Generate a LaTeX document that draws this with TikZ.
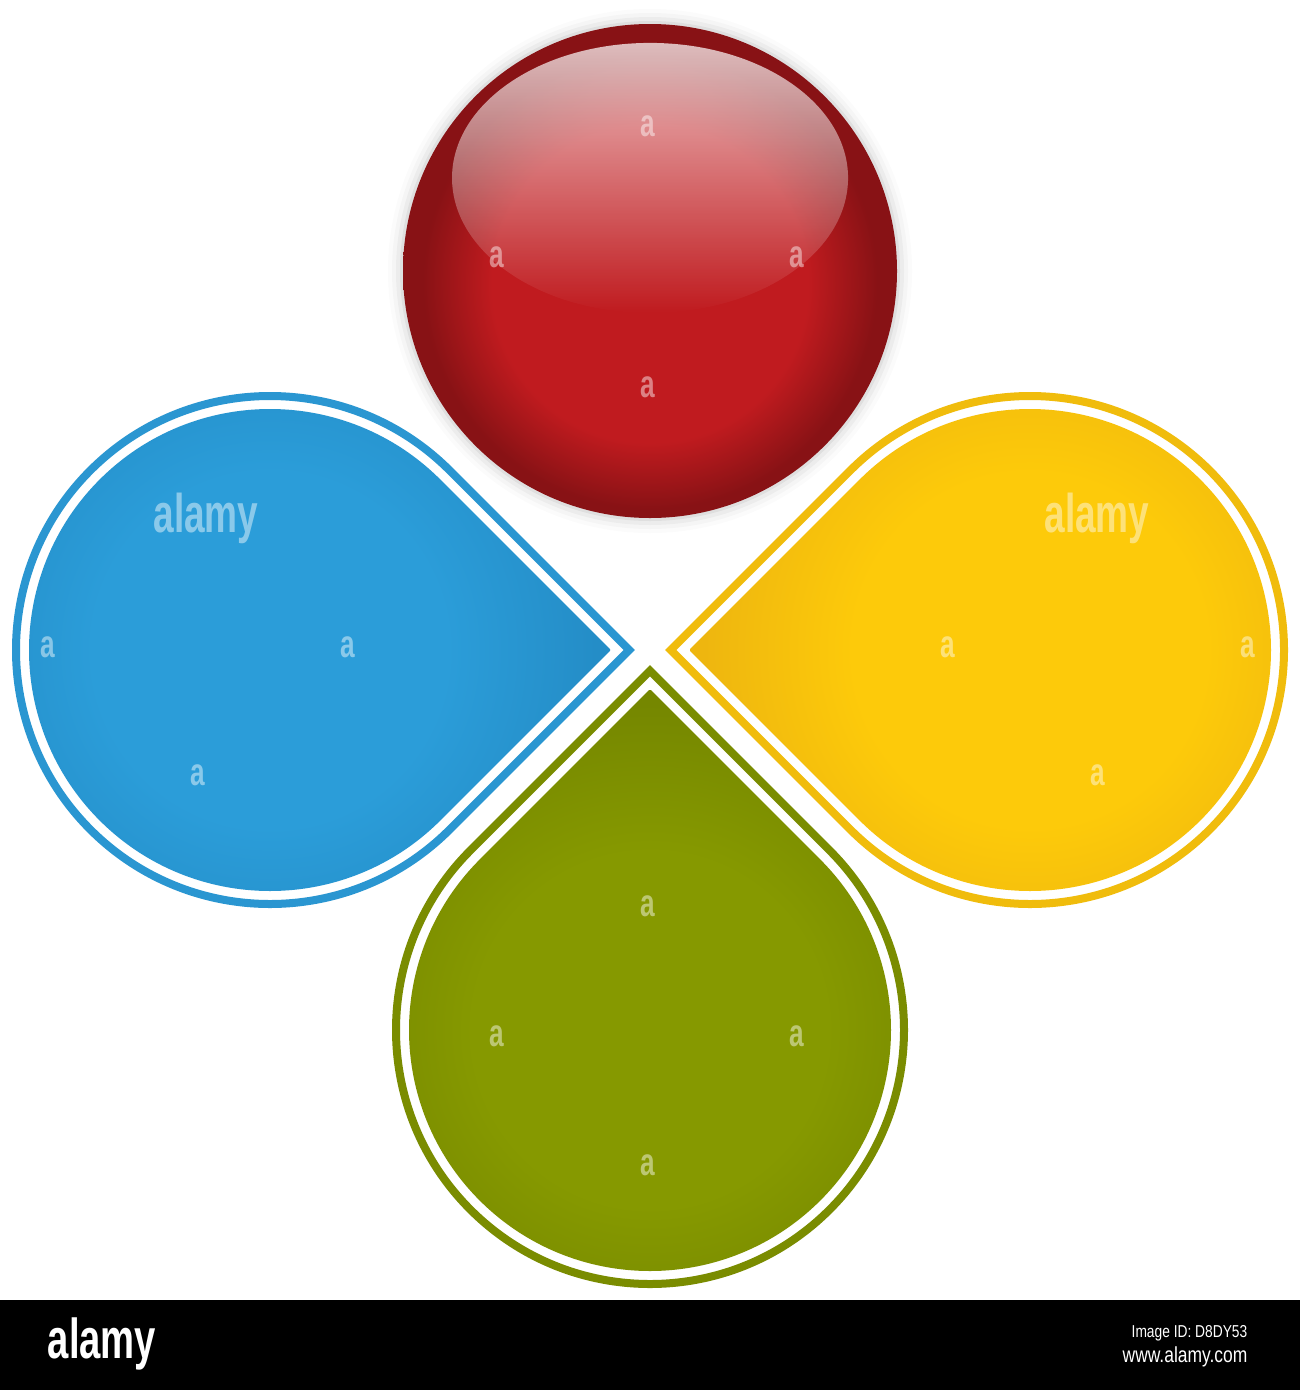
\documentclass[tikz,border=0pt]{standalone}
\usepackage{fontspec}
\setmainfont{Liberation Sans}
\newfontfamily\markfont[FakeStretch=0.68]{Liberation Sans}
\newfontfamily\barfont[FakeStretch=0.8]{Liberation Sans}
\usepackage{tikz}
\usetikzlibrary{fadings}

\definecolor{redMid}{RGB}{192,27,31}
\definecolor{redEdge}{RGB}{136,18,21}
\definecolor{blueRing}{RGB}{42,150,209}
\definecolor{blueIn}{RGB}{43,157,217}
\definecolor{blueOut}{RGB}{36,141,199}
\definecolor{yellowRing}{RGB}{240,188,12}
\definecolor{yellowIn}{RGB}{253,202,10}
\definecolor{yellowOut}{RGB}{238,182,15}
\definecolor{greenRing}{RGB}{122,140,0}
\definecolor{greenIn}{RGB}{134,153,0}
\definecolor{greenOut}{RGB}{117,135,0}

\pgfdeclareradialshading{redball}{\pgfpoint{0bp}{-2bp}}{color(0bp)=(redMid); color(16bp)=(redMid); color(23bp)=(redEdge); color(50bp)=(redEdge)}
\pgfdeclareradialshading{bluedrop}{\pgfpoint{0bp}{0bp}}{color(0bp)=(blueIn); color(13bp)=(blueIn); color(24bp)=(blueOut); color(50bp)=(blueOut)}
\pgfdeclareradialshading{yellowdrop}{\pgfpoint{0bp}{0bp}}{color(0bp)=(yellowIn); color(13bp)=(yellowIn); color(24bp)=(yellowOut); color(50bp)=(yellowOut)}
\pgfdeclareradialshading{greendrop}{\pgfpoint{0bp}{0bp}}{color(0bp)=(greenIn); color(13bp)=(greenIn); color(24bp)=(greenOut); color(50bp)=(greenOut)}

\tikzfading[name=glossfade, top color=transparent!28, middle color=transparent!90, bottom color=transparent!100]

% drop with its tip on the +x axis, circle centred at the origin
\newcommand{\droppath}[1]{(45:#1) arc[start angle=45, end angle=315, radius=#1] -- ({1.4142*#1},0) -- cycle}

\tikzset{ring/.style={draw=#1, line width=0.8mm, line join=miter, miter limit=10},
    wmark/.style={text=white, opacity=0.45, font=\markfont\bfseries\fontsize{11}{11}\selectfont, inner sep=0pt},
    wword/.style={wmark, font=\markfont\bfseries\fontsize{15.5}{16}\selectfont}
}

\begin{document}
\begin{tikzpicture}[x=0.1mm, y=-0.1mm,
    petal/.style={shift={#1}},
    bartext/.style={text=white, anchor=east, inner sep=0pt}]
    \useasboundingbox (0,0) rectangle (1300,1390);
    \fill[white] (0,0) rectangle (1300,1390);

    % red sphere
    \coordinate (sph) at (650,271);
    \foreach \r/\o in {262/0.015, 258/0.025, 254/0.035, 250/0.05}
        \fill[black, opacity=\o] (sph) circle (\r);
    \shade[shading=redball] (sph) circle (247);
    \fill[white, path fading=glossfade] (650,178) ellipse (198 and 135);

    % blue petal
    \begin{scope}[petal={(270,650)}]
        \draw[ring=blueRing] \droppath{254};
        \begin{scope}
            \clip \droppath{241};
            \shade[shading=bluedrop] (0,0) circle (340);
        \end{scope}
    \end{scope}

    % yellow petal
    \begin{scope}[petal={(1030,650)}, rotate=180]
        \draw[ring=yellowRing] \droppath{254};
        \begin{scope}
            \clip \droppath{241};
            \shade[shading=yellowdrop] (0,0) circle (340);
        \end{scope}
    \end{scope}

    % green petal
    \begin{scope}[petal={(650,1030)}, rotate=90]
        \draw[ring=greenRing] \droppath{254};
        \begin{scope}
            \clip \droppath{241};
            \shade[shading=greendrop] (0,0) circle (340);
        \end{scope}
    \end{scope}

    % watermark marks
    \foreach \x/\y [count=\i] in {648/126, 497/257, 797/257, 648/387,
        48/647, 348/647, 198/775, 948/647, 1248/647, 1098/775,
        648/906, 497/1036, 797/1036, 648/1165}
        \node[wmark] (wm\i) at (\x,\y) {a};
    \node[wword] (wmBlue) at (206,518) {alamy};
    \node[wword] (wmYellow) at (1097,518) {alamy};

    % bottom bar
    \fill[black] (0,1300) rectangle (1300,1390);
    \node[text=white, inner sep=0pt, font=\markfont\bfseries\fontsize{16}{16}\selectfont] (logo) at (102,1344) {alamy};
    \node[bartext, font=\barfont\fontsize{4.9}{5}\selectfont] (imgid) at (1248,1333) {Image ID: D8DY53};
    \node[bartext, font=\barfont\fontsize{6.2}{6}\selectfont] (site) at (1248,1357) {www.alamy.com};
\end{tikzpicture}
\end{document}
